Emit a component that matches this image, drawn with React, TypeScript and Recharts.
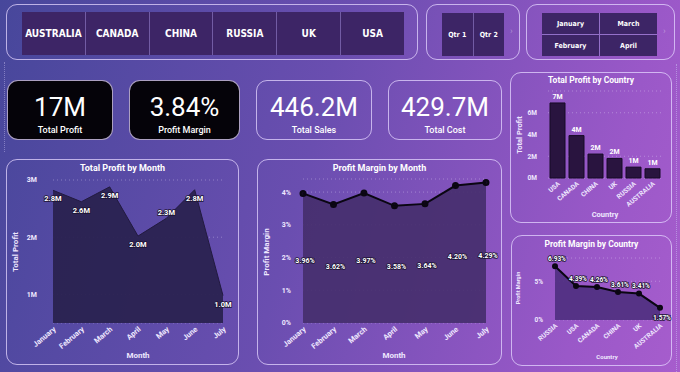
import React from "react";
import {
  AreaChart, Area, ComposedChart, Line, BarChart, Bar,
  XAxis, YAxis, CartesianGrid, LabelList,
} from "recharts";

const FONT = "Roboto, 'DejaVu Sans', sans-serif";
const SLICER_FONT = "'Liberation Sans Narrow', 'DejaVu Sans Condensed', Roboto, sans-serif";
const BORDER = "rgba(228,214,255,0.75)";
const GRID = "rgba(235,225,255,0.35)";
const TICK = "#efe8ff";
const BTN = "#3d2566";
const BTN_LINE = "rgba(150,130,205,0.6)";

// slicers
const slicerCountries = ["AUSTRALIA", "CANADA", "CHINA", "RUSSIA", "UK", "USA"];
const quarters = ["Qtr 1", "Qtr 2"];
const slicerMonths = ["January", "March", "February", "April"];

// kpi cards
const kpiValues = ["17M", "3.84%", "446.2M", "429.7M"];
const kpiLabels = ["Total Profit", "Profit Margin", "Total Sales", "Total Cost"];

// by month
const months = ["January", "February", "March", "April", "May", "June", "July"];
const profitByMonth = [2820000, 2620000, 2880000, 2020000, 2330000, 2830000, 980000];
const marginByMonth = [3.96, 3.62, 3.97, 3.58, 3.64, 4.2, 4.29];

// by country
const profitCountries = ["USA", "CANADA", "CHINA", "UK", "RUSSIA", "AUSTRALIA"];
const profitByCountry = [6900000, 3900000, 2200000, 1800000, 1000000, 850000];
const marginCountries = ["RUSSIA", "USA", "CANADA", "CHINA", "UK", "AUSTRALIA"];
const marginByCountry = [6.93, 4.39, 4.26, 3.61, 3.41, 1.57];

const profitMonthData = months.map((m, i) => ({ month: m, profit: profitByMonth[i] }));
const marginMonthData = months.map((m, i) => ({ month: m, margin: marginByMonth[i], half: marginByMonth[i] / 2 }));
const profitCountryData = profitCountries.map((c, i) => ({ country: c, profit: profitByCountry[i] }));
const marginCountryData = marginCountries.map((c, i) => ({ country: c, margin: marginByCountry[i] }));

function AngleTick(props: any) {
  const { x, y, payload, size = 7.5, dy = 3 } = props;
  return (
    <g transform={`translate(${x},${y + dy})`}>
      <text textAnchor="end" transform="rotate(-40)" fontSize={size} fontWeight={700} fill={TICK} dy="0.7em">
        {payload.value}
      </text>
    </g>
  );
}

function Box({ x, y, w, h, children, fill }: any) {
  return (
    <div style={{ position: "absolute", left: x, top: y, width: w, height: h }}>
      <div style={{ position: "absolute", inset: 0, border: `1.5px solid ${BORDER}`, borderRadius: 11, background: fill || "transparent" }} />
      {children}
    </div>
  );
}

function Title({ text, top, size = 9 }: any) {
  return (
    <div style={{ position: "absolute", left: 0, right: 0, top, textAlign: "center", color: "#fff", fontWeight: 700, fontSize: size, lineHeight: 1 }}>
      {text}
    </div>
  );
}

function AxisTitle({ text, x, y, rotate, size = 8 }: any) {
  return (
    <div style={{
      position: "absolute", left: x, top: y, color: TICK, fontWeight: 700, fontSize: size, lineHeight: 1, whiteSpace: "nowrap",
      transform: `translate(-50%,-50%)${rotate ? " rotate(-90deg)" : ""}`,
    }}>
      {text}
    </div>
  );
}

const labelText = (x: number, y: number, s: string, size = 7.5) => (
  <text x={x} y={y} textAnchor="middle" fontSize={size} fontWeight={700} fill="#fff"
    stroke="#1d1433" strokeWidth={1.6} paintOrder="stroke" dominantBaseline="middle">
    {s}
  </text>
);

export default function App() {
  const yTick = { fill: TICK, fontSize: 7, fontWeight: 700 };
  return (
    <div style={{
      position: "absolute", left: 0, top: 0, width: 680, height: 372, overflow: "hidden", fontFamily: FONT,
      background: "linear-gradient(105deg, #47479b 0%, #6a4eb0 45%, #9a58c8 85%, #a75dcd 100%)",
    }}>
      {/* page edge guides */}
      <div style={{ position: "absolute", left: 4, top: 62, height: 90, borderLeft: "1px dotted rgba(200,190,240,0.45)" }} />
      <div style={{ position: "absolute", left: 676, top: 64, height: 308, borderLeft: "1px dotted rgba(200,190,240,0.55)" }} />

      {/* country slicer */}
      <Box x={6} y={4} w={412} h={56}>
        <div style={{ position: "absolute", left: 16, top: 8, width: 382, height: 43, display: "flex", background: BTN }}>
          {slicerCountries.map((c, i) => (
            <div key={c} style={{
              flex: 1, display: "flex", alignItems: "center", justifyContent: "center",
              borderLeft: i ? `1px solid ${BTN_LINE}` : "none", color: "#fff", fontFamily: SLICER_FONT, fontWeight: 700, fontSize: 10,
            }}>{c}</div>
          ))}
        </div>
      </Box>

      {/* quarter slicer */}
      <Box x={426} y={4} w={94} h={56}>
        <div style={{ position: "absolute", left: 16, top: 9, width: 62, height: 43, display: "flex", background: BTN }}>
          {quarters.map((q, i) => (
            <div key={q} style={{
              flex: 1, display: "flex", alignItems: "center", justifyContent: "center",
              borderLeft: i ? `1px solid ${BTN_LINE}` : "none", color: "#fff", fontFamily: SLICER_FONT, fontWeight: 700, fontSize: 7,
            }}>{q}</div>
          ))}
        </div>
        <div style={{ position: "absolute", left: 84, top: 22, color: "rgba(255,255,255,0.35)", fontSize: 9 }}>›</div>
      </Box>

      {/* month slicer */}
      <Box x={526} y={4} w={149} h={56}>
        <div style={{
          position: "absolute", left: 16, top: 9, width: 115, height: 43, display: "grid",
          gridTemplateColumns: "1fr 1fr", gridTemplateRows: "1fr 1fr", gap: 1, background: BTN_LINE,
        }}>
          {slicerMonths.map((m) => (
            <div key={m} style={{
              background: BTN, display: "flex", alignItems: "center", justifyContent: "center",
              color: "#fff", fontFamily: SLICER_FONT, fontWeight: 700, fontSize: 7,
            }}>{m}</div>
          ))}
        </div>
        <div style={{ position: "absolute", left: 137, top: 22, color: "rgba(255,255,255,0.35)", fontSize: 9 }}>›</div>
      </Box>

      {/* kpi cards */}
      {kpiValues.map((v, i) => {
        const xs = [7, 129, 256, 388];
        const ws = [106, 111, 116, 114];
        return (
          <Box key={v} x={xs[i]} y={80} w={ws[i]} h={60} fill={i < 2 ? "#050309" : undefined}>
            <div style={{ position: "absolute", left: 0, right: 0, top: 14, textAlign: "center", color: "#fff", fontSize: 26, lineHeight: 1 }}>{v}</div>
            <div style={{ position: "absolute", left: 0, right: 0, top: 46, textAlign: "center", color: "#fff", fontSize: 9, fontWeight: 500, lineHeight: 1 }}>{kpiLabels[i]}</div>
          </Box>
        );
      })}

      {/* Total Profit by Month */}
      <Box x={6} y={159} w={233} h={206}>
        <Title text="Total Profit by Month" top={5} />
        <div style={{ position: "absolute", left: 0, top: 0 }}>
          <AreaChart width={233} height={206} data={profitMonthData} margin={{ top: 21, right: 16, left: 0, bottom: 0 }}>
            <CartesianGrid vertical={false} stroke={GRID} strokeDasharray="1 3" />
            <XAxis dataKey="month" axisLine={false} tickLine={false} tickSize={0} tickMargin={0} height={42} interval={0}
              tick={<AngleTick />} />
            <YAxis width={47} domain={[500000, 3000000]} ticks={[1000000, 2000000, 3000000]} allowDataOverflow
              axisLine={false} tickLine={false} tickMargin={10} tick={yTick}
              tickFormatter={(v: number) => `${v / 1000000}M`} />
            <Area type="linear" dataKey="profit" stroke="#221a40" strokeWidth={1} fill="#2a2250" fillOpacity={0.95}
              isAnimationActive={false}>
              <LabelList dataKey="profit" content={(p: any) =>
                labelText(p.x, p.index === 4 ? p.y - 5 : p.y + 9, `${(Number(p.value) / 1000000).toFixed(1)}M`)} />
            </Area>
          </AreaChart>
        </div>
        <AxisTitle text="Total Profit" x={10} y={93} rotate />
        <AxisTitle text="Month" x={132} y={197} />
      </Box>

      {/* Profit Margin by Month */}
      <Box x={257} y={159} w={245} h={206}>
        <Title text="Profit Margin by Month" top={5} />
        <div style={{ position: "absolute", left: 0, top: 0 }}>
          <ComposedChart width={245} height={206} data={marginMonthData} margin={{ top: 20, right: 16, left: 0, bottom: 0 }}>
            <CartesianGrid vertical={false} stroke={GRID} strokeDasharray="1 3" />
            <XAxis dataKey="month" scale="point" axisLine={false} tickLine={false} tickSize={0} tickMargin={0} height={42}
              interval={0} tick={<AngleTick />} />
            <YAxis width={46} domain={[0, 4.4]} ticks={[0, 1, 2, 3, 4]} axisLine={false} tickLine={false} tickMargin={6}
              tick={yTick} tickFormatter={(v: number) => `${v}%`} />
            <Area type="linear" dataKey="margin" stroke="#0a0612" strokeWidth={2} fill="#452d6c" fillOpacity={0.9}
              dot={{ r: 2.5, fill: "#0a0612", stroke: "#0a0612" }} isAnimationActive={false} />
            <Line type="linear" dataKey="half" stroke="none" dot={false} activeDot={false} isAnimationActive={false}>
              <LabelList dataKey="half" content={(p: any) =>
                labelText(p.x + 2, p.y + 3, `${marginByMonth[p.index].toFixed(2)}%`, 7)} />
            </Line>
          </ComposedChart>
        </div>
        <AxisTitle text="Profit Margin" x={10} y={93} rotate />
        <AxisTitle text="Month" x={137} y={197} />
      </Box>

      {/* Total Profit by Country */}
      <Box x={510} y={72} w={162} h={151}>
        <Title text="Total Profit by Country" top={4} size={8.5} />
        <div style={{ position: "absolute", left: 0, top: 0 }}>
          <BarChart width={162} height={151} data={profitCountryData} margin={{ top: 19, right: 10, left: 0, bottom: 0 }}>
            <CartesianGrid vertical={false} stroke={GRID} strokeDasharray="1 3" />
            <XAxis dataKey="country" axisLine={false} tickLine={false} tickSize={0} tickMargin={0} height={45} interval={0}
              tick={<AngleTick size={6.5} dy={3} />} />
            <YAxis width={38} domain={[0, 8000000]} ticks={[0, 2000000, 4000000, 6000000]} axisLine={false} tickLine={false}
              tickMargin={5} tick={{ ...yTick, fontSize: 6.5 }} tickFormatter={(v: number) => `${v / 1000000}M`} />
            <Bar dataKey="profit" barSize={15} fill="#29143f" stroke="#160a26" strokeWidth={1} isAnimationActive={false}>
              <LabelList dataKey="profit" position="top" offset={4} fill="#fff" fontSize={7} fontWeight={700}
                formatter={(v: any) => `${Math.round(Number(v) / 1000000)}M`} />
            </Bar>
          </BarChart>
        </div>
        <AxisTitle text="Total Profit" x={10} y={63} rotate size={7.5} />
        <AxisTitle text="Country" x={95} y={143} size={7.5} />
      </Box>

      {/* Profit Margin by Country */}
      <Box x={511} y={235} w={161} h={131}>
        <Title text="Profit Margin by Country" top={5} size={8.5} />
        <div style={{ position: "absolute", left: 0, top: 0 }}>
          <AreaChart width={161} height={131} data={marginCountryData} margin={{ top: 23, right: 12, left: 0, bottom: 0 }}>
            <CartesianGrid vertical={false} stroke={GRID} strokeDasharray="1 3" />
            <XAxis dataKey="country" axisLine={false} tickLine={false} tickSize={0} tickMargin={0} height={46} interval={0}
              tick={<AngleTick size={6.5} dy={3} />} />
            <YAxis width={44} domain={[0, 8]} ticks={[0, 5]} axisLine={false} tickLine={false} tickMargin={6}
              tick={{ ...yTick, fontSize: 6.5 }} tickFormatter={(v: number) => `${v}%`} />
            <Area type="linear" dataKey="margin" stroke="#0a0612" strokeWidth={2} fill="#4e2f7e" fillOpacity={0.9}
              dot={{ r: 2, fill: "#0a0612", stroke: "#0a0612" }} isAnimationActive={false}>
              <LabelList dataKey="margin" content={(p: any) =>
                labelText(p.x + 2, p.index === 5 ? p.y + 10 : p.y - 7, `${Number(p.value).toFixed(2)}%`, 6.5)} />
            </Area>
          </AreaChart>
        </div>
        <AxisTitle text="Profit Margin" x={8} y={53} rotate size={5.5} />
        <AxisTitle text="Country" x={96} y={122} size={6} />
      </Box>
    </div>
  );
}
